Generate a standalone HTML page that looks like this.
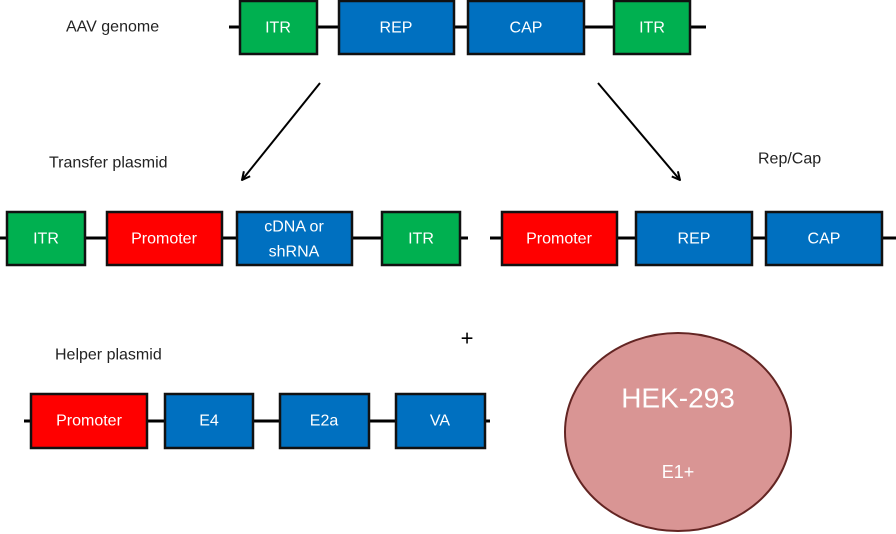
<!DOCTYPE html>
<html><head><meta charset="utf-8"><style>
html,body{margin:0;padding:0;background:#fff;}
svg{display:block;}
text{font-family:"Liberation Sans",sans-serif;}
.w{fill:#fff;font-size:16px;text-anchor:middle;dominant-baseline:central;}
.l{fill:#222;font-size:16px;dominant-baseline:central;}
</style></head><body>
<svg width="896" height="534" viewBox="0 0 896 534" xmlns="http://www.w3.org/2000/svg">
<defs><marker id="a" markerWidth="10" markerHeight="10" refX="9" refY="5" orient="auto" markerUnits="userSpaceOnUse"><path d="M1,1 L9,5 L1,9" fill="none" stroke="#000" stroke-width="2"/></marker></defs>
<g stroke="#000" stroke-width="3">
<line x1="229" y1="27" x2="706" y2="27"/>
<line x1="0" y1="238" x2="468" y2="238"/>
<line x1="490" y1="238" x2="896" y2="238"/>
<line x1="24" y1="421" x2="490" y2="421"/>
</g>
<g stroke="#111" stroke-width="2.5">
<rect x="240" y="1" width="77" height="53" fill="#00b050"/>
<rect x="339" y="1" width="115" height="53" fill="#0070c0"/>
<rect x="468" y="1" width="116" height="53" fill="#0070c0"/>
<rect x="614" y="1" width="76" height="53" fill="#00b050"/>
<rect x="7" y="212" width="78" height="53" fill="#00b050"/>
<rect x="107" y="212" width="115" height="53" fill="#ff0000"/>
<rect x="237" y="212" width="115" height="53" fill="#0070c0"/>
<rect x="382" y="212" width="78" height="53" fill="#00b050"/>
<rect x="502" y="212" width="115" height="53" fill="#ff0000"/>
<rect x="636" y="212" width="116" height="53" fill="#0070c0"/>
<rect x="766" y="212" width="116" height="53" fill="#0070c0"/>
<rect x="31" y="394" width="116" height="54" fill="#ff0000"/>
<rect x="165" y="394" width="88" height="54" fill="#0070c0"/>
<rect x="280" y="394" width="89" height="54" fill="#0070c0"/>
<rect x="396" y="394" width="89" height="54" fill="#0070c0"/>
</g>
<g stroke="#000" stroke-width="2">
<line x1="320" y1="83" x2="242" y2="180" marker-end="url(#a)"/>
<line x1="598" y1="83" x2="680" y2="180" marker-end="url(#a)"/>
</g>
<ellipse cx="678" cy="432" rx="113" ry="99" fill="#d99594" stroke="#632523" stroke-width="2"/>
<text class="l" x="66" y="27">AAV genome</text>
<text class="l" x="49" y="163">Transfer plasmid</text>
<text class="l" x="758" y="159">Rep/Cap</text>
<text class="l" x="55" y="355">Helper plasmid</text>
<text x="467" y="338" style="font-size:22px;fill:#000;text-anchor:middle;dominant-baseline:central">+</text>
<text class="w" x="278" y="28">ITR</text>
<text class="w" x="396" y="28">REP</text>
<text class="w" x="526" y="28">CAP</text>
<text class="w" x="652" y="28">ITR</text>
<text class="w" x="46" y="239">ITR</text>
<text class="w" x="164" y="239">Promoter</text>
<text class="w" x="294" y="227">cDNA or</text>
<text class="w" x="294" y="252">shRNA</text>
<text class="w" x="421" y="239">ITR</text>
<text class="w" x="559" y="239">Promoter</text>
<text class="w" x="694" y="239">REP</text>
<text class="w" x="824" y="239">CAP</text>
<text class="w" x="89" y="421">Promoter</text>
<text class="w" x="209" y="421">E4</text>
<text class="w" x="324" y="421">E2a</text>
<text class="w" x="440" y="421">VA</text>
<text class="w" x="678" y="398" style="font-size:28px">HEK-293</text>
<text class="w" x="678" y="472" style="font-size:18px">E1+</text>
</svg>
</body></html>
